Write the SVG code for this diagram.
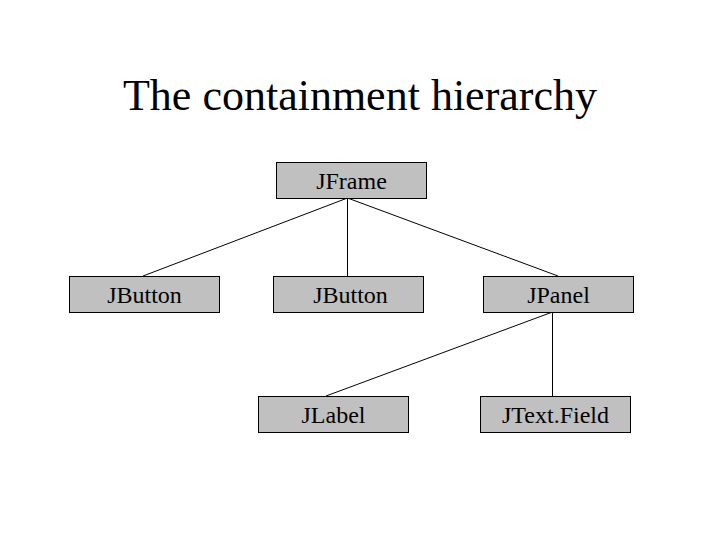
<svg xmlns="http://www.w3.org/2000/svg" width="720" height="540" viewBox="0 0 720 540">
<style>
.box{fill:#c0c0c0;stroke:#000;stroke-width:1}
.lbl{font-family:"Liberation Serif",serif;font-size:24px;fill:#000;text-anchor:middle}
.title{font-family:"Liberation Serif",serif;font-size:44px;fill:#000;text-anchor:middle}
.conn line{stroke:#000;stroke-width:1}
</style>
<rect width="720" height="540" fill="#fff"/>
<text class="title" x="360" y="110">The containment hierarchy</text>
<g class="conn" id="connectors">
<line x1="347.5" y1="198" x2="143" y2="276"/>
<line x1="347.5" y1="198" x2="347.5" y2="276"/>
<line x1="347.5" y1="198" x2="558" y2="276"/>
<line x1="552.5" y1="312" x2="326" y2="396"/>
<line x1="552.5" y1="312" x2="552.5" y2="396"/>
</g>
<g id="jframe"><rect class="box" x="276.5" y="162.5" width="150" height="36"/><text class="lbl" x="351.5" y="189" font-family="Liberation Serif, serif">JFrame</text></g>
<g id="jbutton1"><rect class="box" x="69.5" y="276.5" width="150" height="36"/><text class="lbl" x="144.5" y="303" font-family="Liberation Serif, serif">JButton</text></g>
<g id="jbutton2"><rect class="box" x="273.5" y="276.5" width="150" height="36"/><text class="lbl" x="350.5" y="303" font-family="Liberation Serif, serif">JButton</text></g>
<g id="jpanel"><rect class="box" x="483.5" y="276.5" width="150" height="36"/><text class="lbl" x="558.5" y="303" font-family="Liberation Serif, serif">JPanel</text></g>
<g id="jlabel"><rect class="box" x="258.5" y="396.5" width="150" height="36"/><text class="lbl" x="333.5" y="423" font-family="Liberation Serif, serif">JLabel</text></g>
<g id="jtextfield"><rect class="box" x="480.5" y="396.5" width="150" height="36"/><text class="lbl" x="555.5" y="423" font-family="Liberation Serif, serif">JText.Field</text></g>
</svg>
